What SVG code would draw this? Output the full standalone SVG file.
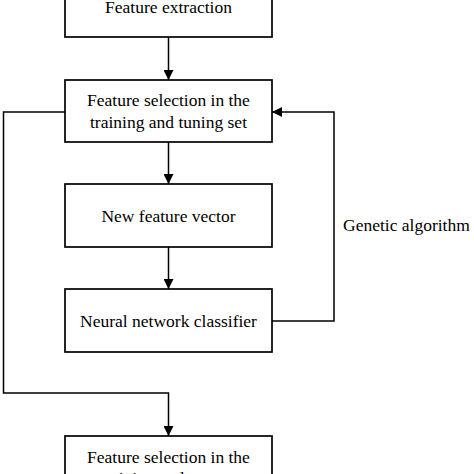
<svg xmlns="http://www.w3.org/2000/svg" width="474" height="474" viewBox="0 0 474 474">
<defs>
<marker id="arr" viewBox="0 0 10 10" refX="10" refY="5" markerWidth="10" markerHeight="10" markerUnits="userSpaceOnUse" orient="auto">
<path d="M0,0 L10,5 L0,10 z" fill="#000"/>
</marker>
</defs>
<style>
.box{fill:#fff;stroke:#000;stroke-width:1.7}
.t{font-family:"Liberation Serif","Times New Roman",serif;font-size:17.5px;fill:#000;text-anchor:middle}
.c{fill:none;stroke:#000;stroke-width:1.5}
</style>
<rect width="474" height="474" fill="#fff"/>
<g id="n1">
<rect class="box" x="65" y="-10" width="207" height="47"/>
<text class="t" x="168.5" y="13">Feature extraction</text>
</g>
<g id="n2">
<rect class="box" x="65" y="80" width="207" height="62"/>
<text class="t" x="168.5" y="106">Feature selection in the</text>
<text class="t" x="168.5" y="128">training and tuning set</text>
</g>
<g id="n3">
<rect class="box" x="65" y="184" width="207" height="63"/>
<text class="t" x="168.5" y="222">New feature vector</text>
</g>
<g id="n4">
<rect class="box" x="65" y="289" width="207" height="63"/>
<text class="t" x="168.5" y="327">Neural network classifier</text>
</g>
<g id="n5">
<rect class="box" x="65" y="436" width="207" height="60"/>
<text class="t" x="168.5" y="463">Feature selection in the</text>
<text class="t" x="168.5" y="484">training and test set</text>
</g>
<g id="connectors">
<line class="c" x1="168.5" y1="37" x2="168.5" y2="80" marker-end="url(#arr)"/>
<line class="c" x1="168.5" y1="142" x2="168.5" y2="184" marker-end="url(#arr)"/>
<line class="c" x1="168.5" y1="247" x2="168.5" y2="289" marker-end="url(#arr)"/>
<polyline class="c" points="272,321 334,321 334,112 272,112" marker-end="url(#arr)"/>
<polyline class="c" points="65,112 3.5,112 3.5,393 168.5,393 168.5,436" marker-end="url(#arr)"/>
<text class="t" x="343" y="231" style="text-anchor:start">Genetic algorithm</text>
</g>
</svg>
